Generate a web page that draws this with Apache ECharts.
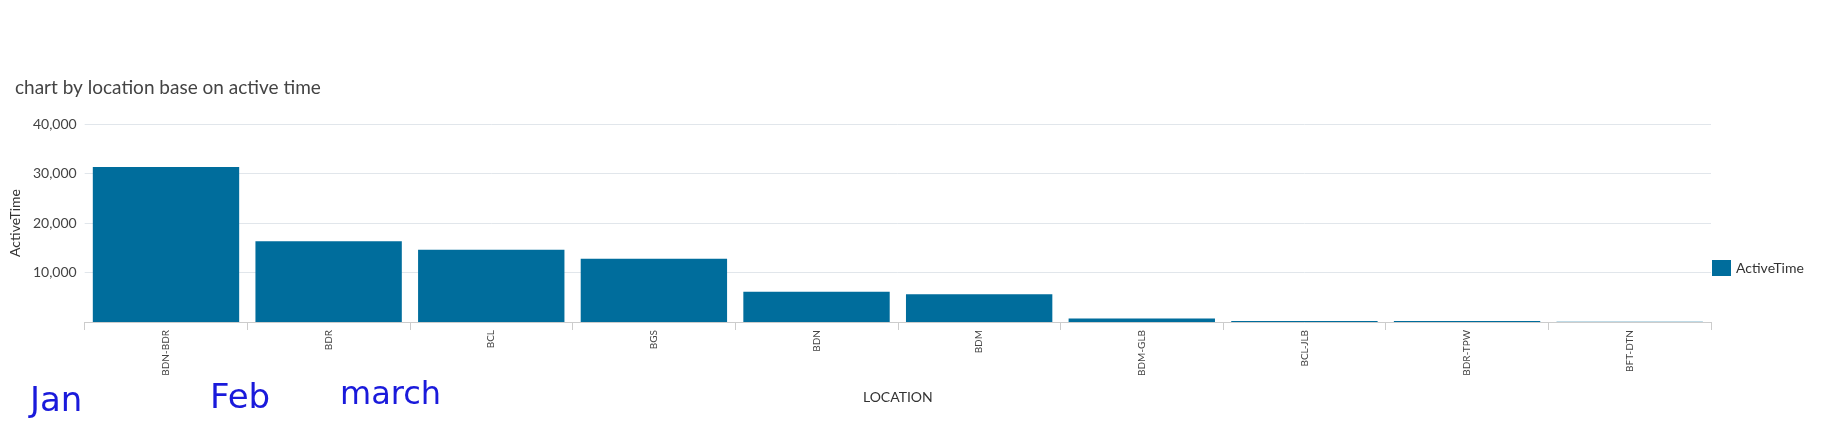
<!DOCTYPE html>
<html><head><meta charset="utf-8">
<script src="https://cdn.jsdelivr.net/npm/echarts@6/dist/echarts.min.js"></script>
<style>html,body{margin:0;background:#fff}#c{width:1831px;height:425px}</style>
</head><body><div id="c"></div>
<script>
const categories = ['BDN-BDR','BDR','BCL','BGS','BDN','BDM','BDM-GLB','BCL-JLB','BDR-TPW','BFT-DTN'];
const activeTime = [31300,16300,14600,12800,6100,5600,700,200,200,50];
const yTicks = [0,10000,20000,30000,40000];
const notes = ['Jan','Feb','march'];
const chart = echarts.init(document.getElementById('c'));
chart.setOption({
  animation:false,
  textStyle:{fontFamily:'Lato'},
  title:{text:'chart by location base on active time',left:10,top:73,textStyle:{fontSize:19,fontWeight:'normal',color:'#444'}},
  legend:{data:['ActiveTime'],orient:'vertical',left:1707,top:255,itemWidth:19,itemHeight:16,icon:'rect',textStyle:{fontSize:14,color:'#333'}},
  grid:{left:79,right:120,top:124,bottom:103,containLabel:false},
  xAxis:{type:'category',data:categories,name:'LOCATION',nameLocation:'middle',nameGap:68,
    nameTextStyle:{fontSize:14,color:'#333'},
    axisLine:{lineStyle:{color:'#ccc'}},axisTick:{show:true,length:8,lineStyle:{color:'#ccc'}},
    axisLabel:{rotate:90,fontSize:10,color:'#444',margin:8}},
  yAxis:{type:'value',min:0,max:40000,interval:10000,name:'ActiveTime',nameLocation:'middle',nameGap:62,
    nameTextStyle:{fontSize:14,color:'#333'},
    axisLine:{show:false},axisTick:{show:false},
    splitLine:{lineStyle:{color:'#e1e6eb'}},
    axisLabel:{fontSize:14,color:'#444',formatter:v=>v===0?'':v.toLocaleString('en-US')}},
  series:[{name:'ActiveTime',type:'bar',data:activeTime,barCategoryGap:'10%',itemStyle:{color:'#006d9c'}}],
  graphic:[
    {type:'text',left:30,top:385,style:{text:notes[0],fontSize:34,fill:'#1a1adb',fontFamily:'DejaVu Sans'}},
    {type:'text',left:210,top:382,style:{text:notes[1],fontSize:34,fill:'#1a1adb',fontFamily:'DejaVu Sans'}},
    {type:'text',left:340,top:380,style:{text:notes[2],fontSize:32,fill:'#1a1adb',fontFamily:'DejaVu Sans'}}
  ]
});
</script></body></html>
